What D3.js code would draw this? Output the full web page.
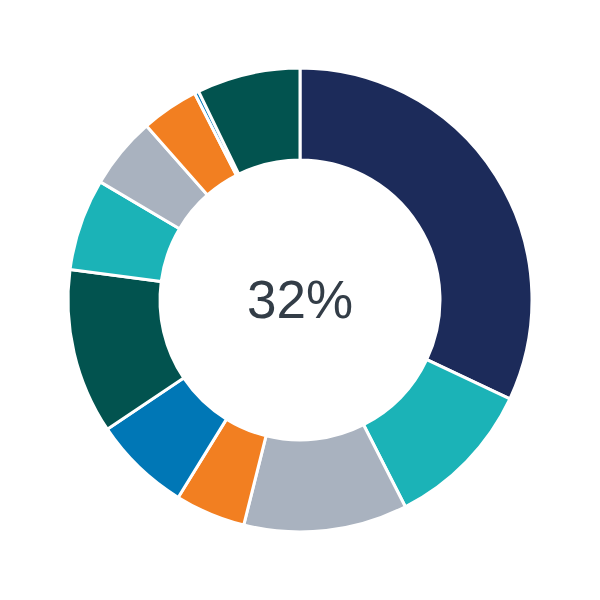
<!DOCTYPE html>
<html>
<head>
<meta charset="utf-8">
<script src="https://cdn.jsdelivr.net/npm/d3@7"></script>
<style>
  body { margin: 0; background: #fff; }
  svg { display: block; }
</style>
</head>
<body>
<svg id="root"></svg>
<script>
// slice shares in percent, clockwise from 12 o'clock
const labels = ["A", "B", "C", "D", "E", "F", "G", "H", "I", "J", "K"];
const values = [32, 10.5, 11.4, 4.9, 6.8, 11.5, 6.4, 5.0, 4.0, 0.3, 7.2];
const colors = ["#1c2b5a", "#1bb3b7", "#a9b2bf", "#f27f21", "#0077b6", "#02534f",
                "#1bb3b7", "#a9b2bf", "#f27f21", "#0077b6", "#02534f"];
const centerLabel = "32%";

const width = 600, height = 600;
const outer = 232, inner = 140;

const svg = d3.select("#root")
  .attr("width", width)
  .attr("height", height);

const g = svg.append("g")
  .attr("transform", `translate(${width / 2},${height / 2})`);

const data = labels.map((l, i) => ({ label: l, value: values[i], color: colors[i] }));

const pie = d3.pie()
  .sort(null)
  .value(d => d.value);

const arc = d3.arc()
  .innerRadius(inner)
  .outerRadius(outer);

g.selectAll(".slice")
  .data(pie(data))
  .enter().append("path")
  .attr("class", "slice")
  .attr("d", arc)
  .attr("fill", d => d.data.color)
  .attr("stroke", "#fff")
  .attr("stroke-width", 3)
  .attr("stroke-linejoin", "miter");

g.append("text")
  .attr("text-anchor", "middle")
  .attr("y", 18)
  .style("font-family", "'Liberation Sans', Arial, sans-serif")
  .style("font-size", "53px")
  .style("fill", "#333d47")
  .text(centerLabel);
</script>
</body>
</html>
